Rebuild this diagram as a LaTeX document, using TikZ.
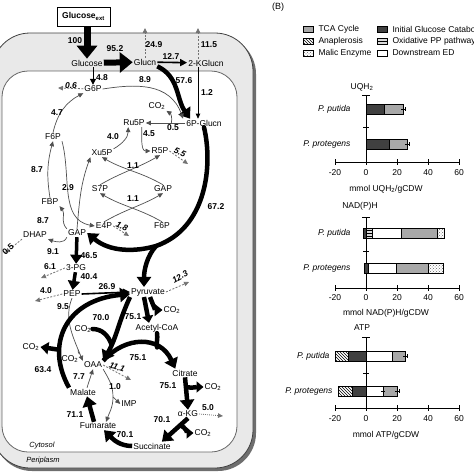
\documentclass[tikz,border=0pt]{standalone}
\usepackage{fontspec}
\setmainfont{Liberation Sans}
\usetikzlibrary{arrows.meta,patterns}

\begin{document}
\begin{tikzpicture}[x=1pt,y=-1pt,font=\fontsize{8.5}{10}\selectfont]
    \definecolor{myband}{RGB}{233,233,233}
    \definecolor{myshade}{RGB}{110,110,110}
    \definecolor{mydark}{RGB}{64,64,64}
    \definecolor{mymid}{RGB}{168,168,168}
    \definecolor{mythin}{RGB}{80,80,80}
    \definecolor{myout}{RGB}{115,115,115}

    \tikzstyle{met}=[inner sep=1pt]  % metabolite
    \tikzstyle{num}=[inner sep=0.5pt,font=\fontsize{8.5}{10}\selectfont\bfseries]  % flux value
    \tikzstyle{inum}=[inner sep=0.5pt,font=\fontsize{8.5}{10}\selectfont\bfseries\itshape]
    \tikzstyle{thinarr}=[draw=mythin,line width=0.7pt,-{Triangle[length=5pt,width=4.5pt]}]
    \tikzstyle{midarr}=[line width=1.6pt,-{Triangle[length=7pt,width=7pt]}]
    \tikzstyle{bigarr}=[line width=4.5pt,-{Triangle[length=10pt,width=14pt]}]
    \tikzstyle{hugearr}=[line width=7pt,-{Triangle[length=13pt,width=20pt]}]
    \tikzstyle{bigline}=[line width=4.5pt,line cap=round]
    \tikzstyle{efflux}=[draw=myout,line width=0.8pt,dash pattern=on 2pt off 1.5pt,-{Triangle[length=5pt,width=4.5pt]}]
    % bars of panel B
    \tikzstyle{bar}=[draw=black,line width=0.5pt]
    \tikzstyle{tca}=[bar,fill=mymid]
    \tikzstyle{ini}=[bar,fill=mydark]
    \tikzstyle{ana}=[bar,pattern=north west lines]
    \tikzstyle{oxp}=[bar,fill=black!15,postaction={pattern=horizontal lines}]
    \tikzstyle{mae}=[bar,pattern=crosshatch dots,pattern color=black!60]
    \tikzstyle{ded}=[bar,fill=white]
    \tikzstyle{chartline}=[line width=0.7pt]
    \tikzstyle{strain}=[anchor=east,font=\fontsize{8.5}{10}\selectfont\itshape]

    \useasboundingbox (0,0) rectangle (474,474);
    \clip (0,0) rectangle (474,474);

    % cell
    \fill[myshade,rounded corners=38] (-6,36) rectangle (256,471);
    \filldraw[fill=myband,draw=black!75,line width=0.8pt,rounded corners=38] (-8,33) rectangle (253,468);
    \filldraw[fill=white,draw=black!60,line width=0.8pt,rounded corners=26] (2,71) rectangle (237,452);
    \node[font=\fontsize{7.5}{9}\selectfont\itshape] (cyto) at (42,446) {Cytosol};
    \node[font=\fontsize{7.5}{9}\selectfont\itshape] (peri) at (43,461) {Periplasm};

    % metabolites
    \node[draw,thin,fill=white,minimum width=53,minimum height=19,font=\fontsize{8.5}{10}\selectfont\bfseries] (gext) at (83.5,16.5) {Glucose\textsubscript{ext}};
    \node[met] (glc) at (87,63) {Glucose};
    \node[met] (glcn) at (145,62) {Glucn};
    \node[met] (kglcn) at (206,63) {2-KGlucn};
    \node[met] (g6p) at (93,89) {G6P};
    \node[met] (f6pa) at (53,137) {F6P};
    \node[met] (ru5p) at (134,123) {Ru5P};
    \node[met] (pglcn) at (204,123) {6P-Glucn};
    \node[met] (co2a) at (157,106) {CO\textsubscript{2}};
    \node[met] (r5p) at (160,151) {R5P};
    \node[met] (xu5p) at (102,153) {Xu5P};
    \node[met] (s7p) at (100,189) {S7P};
    \node[met] (gapb) at (163,189) {GAP};
    \node[met] (e4p) at (104,226) {E4P};
    \node[met] (f6pb) at (162,226) {F6P};
    \node[met] (fbp) at (50,202) {FBP};
    \node[met] (dhap) at (35,235) {DHAP};
    \node[met] (gapa) at (77,233) {GAP};
    \node[met] (pg3) at (76,268) {3-PG};
    \node[met] (pep) at (72,294) {PEP};
    \node[met] (pyr) at (148,292) {Pyruvate};
    \node[met] (co2b) at (172,310) {CO\textsubscript{2}};
    \node[met] (acoa) at (157,328) {Acetyl-CoA};
    \node[met] (oaa) at (93,365) {OAA};
    \node[met] (co2c) at (83,329) {CO\textsubscript{2}};
    \node[met] (co2d) at (70,359) {CO\textsubscript{2}};
    \node[met] (co2e) at (31,347) {CO\textsubscript{2}};
    \node[met] (mal) at (83,392) {Malate};
    \node[met] (imp) at (129,404) {IMP};
    \node[met] (fum) at (98,426) {Fumarate};
    \node[met] (suc) at (152,446) {Succinate};
    \node[met] (cit) at (185,373) {Citrate};
    \node[met] (co2f) at (213,387) {CO\textsubscript{2}};
    \node[met] (akg) at (188,414) {α-KG};
    \node[met] (co2g) at (203,433) {CO\textsubscript{2}};

    % free ends of the effluxes
    \coordinate (e249) at (145,28);
    \coordinate (e115) at (198,28);
    \coordinate (e06) at (58,88);
    \coordinate (e55) at (188,164);
    \coordinate (e18) at (129,236);
    \coordinate (e05) at (5,253);
    \coordinate (e61) at (41,278);
    \coordinate (e40) at (35,301);
    \coordinate (e123) at (189,282);
    \coordinate (e111) at (131,380);
    \coordinate (e50) at (223,416);
    \coordinate (split) at (156,246);
    \coordinate (b10) at (113,397);

    % periplasm
    \draw[hugearr] (gext.south -| glc) -- (glc);
    \draw[hugearr,line width=6pt] (glc) -- (glcn);
    \draw[efflux] (glcn) -- (e249);
    \draw[efflux] (kglcn.north -| e115) -- (e115);
    \draw[midarr] (glcn) -- (kglcn);
    \draw[bigarr] (glcn.south east) to[out=-25,in=125] ([xshift=5pt]pglcn.north west);
    \draw[thinarr,draw=black] ([xshift=-8pt]kglcn.south) -- ([xshift=-6pt]pglcn.north);

    % upper glycolysis, PP pathway
    \draw[midarr,line width=1pt,-{Triangle[length=6pt,width=6pt]}] (glc.south -| g6p) -- (g6p);
    \draw[efflux] (g6p) -- (e06);
    \draw[thinarr] (g6p.east) .. controls (135,84) and (170,82) .. ([xshift=-2pt]pglcn.north west);
    \draw[thinarr] (f6pa.north) to[bend left=25] (g6p.south west);
    \draw[thinarr] (pglcn) -- (ru5p) coordinate[pos=0.35] (b05);
    \draw[thinarr] (b05) to[bend right=35] (co2a.south east);
    \draw[thinarr] (xu5p.north east) to[out=30,in=-90] ([xshift=6pt]ru5p.south west);
    \draw[thinarr] ([xshift=-4pt]ru5p.south east) to[out=-90,in=180] (r5p.west);
    \draw[efflux] (r5p.east) -- (e55);
    \draw[thinarr] (gapb.north) to[out=150,in=-30] (xu5p.south);
    \draw[thinarr] (s7p.north) to[out=30,in=-150] (r5p.south);
    \draw[thinarr] (f6pb.north) to[out=150,in=-30] (s7p.south);
    \draw[thinarr] (e4p.north) to[out=30,in=-150] (gapb.south);
    \draw[efflux] (e4p.east) -- (e18);
    \draw[thinarr] (gapa.north) to[out=85,in=-110] (xu5p.south west);
    \draw[thinarr] (f6pa.south east) to[out=-75,in=170] (e4p.west);
    \draw[thinarr] (fbp.north) to[bend left=12] (f6pa.south);
    \draw[thinarr] (gapa.north west) to[out=135,in=-50] (fbp.south east);
    \draw[thinarr] (gapa.south west) to[out=-110,in=-20] (dhap.south east);
    \draw[efflux] (dhap.south west) -- (e05);

    % lower glycolysis
    \draw[bigarr,line width=3.5pt,-{Triangle[length=9pt,width=12pt]}] (gapa) -- (pg3);
    \draw[efflux] (pg3.west) -- (e61);
    \draw[bigarr,line width=3.5pt,-{Triangle[length=9pt,width=12pt]}] (pg3) -- (pep);
    \draw[efflux] (pep.west) -- (e40);
    \draw[midarr] (pep.east) -- (pyr.west);
    \draw[efflux] (pyr.east) -- (e123);
    \draw[bigline] (pglcn.south) .. controls (213,165) and (207,228) .. (split);
    \draw[bigarr] (split) .. controls (135,252) and (110,252) .. (gapa.east);
    \draw[bigarr] (split) .. controls (147,256) and (144,270) .. ([xshift=-4pt]pyr.north);

    % TCA cycle and anaplerosis
    \draw[bigarr,-{Triangle[length=8pt,width=12pt]}] ([xshift=2pt]pyr.south) to[out=-70,in=180] (co2b.west);
    \draw[bigarr,-{Triangle[length=7pt,width=11pt]}] ([xshift=-4pt]pyr.south) -- ([xshift=-8pt]acoa.north);
    \draw[bigarr] (pyr.south west) to[out=-115,in=60] coordinate[pos=0.75] (j700) (oaa.north east);
    \draw[bigline] (co2c.east) to[out=0,in=110] (j700);
    \draw[thinarr] (pep.south) .. controls (64,318) and (72,335) .. (oaa.north west) coordinate[pos=0.85] (j95);
    \draw[draw=mythin,line width=0.7pt] (co2d.north east) to[bend left=30] (j95);
    \draw[bigarr] (mal.north west) .. controls (45,345) and (65,300) .. ([yshift=-2pt]pyr.west) coordinate[pos=0.3] (j634);
    \draw[bigarr,-{Triangle[length=8pt,width=12pt]}] (j634) -- (co2e.east);
    \draw[thinarr] ([xshift=4pt]mal.north) -- (oaa.south);
    \draw[efflux] (oaa.east) -- (e111);
    \draw[draw=mythin,line width=0.7pt] (oaa.south east) to[out=-60,in=90] (b10);
    \draw[thinarr] (b10) -- (imp.west);
    \draw[thinarr] (b10) to[out=-90,in=70] ([xshift=8pt]fum.north);
    \draw[bigarr] (oaa.north east) .. controls (125,336) and (160,335) .. ([xshift=4pt]cit.north west) coordinate[pos=0.7] (jcit);
    \draw[bigline] (acoa.south) to[out=-80,in=100] (jcit);
    \draw[bigarr] (cit.south) -- (akg.north) coordinate[pos=0.3] (jakg);
    \draw[bigarr,-{Triangle[length=7pt,width=11pt]}] (jakg) to[out=-10,in=180] (co2f.west);
    \draw[bigarr] (akg.south) -- ([xshift=-10pt]suc.north east) coordinate[pos=0.3] (jsuc);
    \draw[bigarr,-{Triangle[length=7pt,width=11pt]}] (jsuc) to[out=-20,in=180] (co2g.west);
    \draw[efflux,dash pattern=on 0.8pt off 1.2pt] (akg.east) -- (e50);
    \draw[bigarr] (suc.west) to[out=180,in=-45] ([xshift=6pt]fum.south);
    \draw[bigarr] ([xshift=-4pt]fum.north) -- ([xshift=4pt]mal.south);

    % flux values
    \node[num] (l100) at (75,41) {100};
    \node[num] (l952) at (115,49) {95.2};
    \node[num] (l249) at (154,45) {24.9};
    \node[num] (l115) at (209,45) {11.5};
    \node[num] (l127) at (171,57) {12.7};
    \node[num] (l576) at (184,81) {57.6};
    \node[num] (l12) at (207,93) {1.2};
    \node[num] (l48) at (102,78) {4.8};
    \node[inum] (l06) at (71,86) {0.6};
    \node[num] (l89) at (145,80) {8.9};
    \node[num] (l47) at (57,113) {4.7};
    \node[num] (l05a) at (173,128) {0.5};
    \node[num] (l40a) at (113,137) {4.0};
    \node[num] (l45) at (149,134) {4.5};
    \node[inum,rotate=-25] (l55) at (180,152) {5.5};
    \node[num] (l11a) at (133,166) {1.1};
    \node[num] (l11b) at (133,199) {1.1};
    \node[inum,rotate=-25] (l18) at (122,226) {1.8};
    \node[num] (l29) at (68,188) {2.9};
    \node[num] (l87a) at (37,170) {8.7};
    \node[num] (l87b) at (43,221) {8.7};
    \node[num] (l91) at (53,252) {9.1};
    \node[num,rotate=40] (l05b) at (8,249) {0.5};
    \node[num] (l465) at (89,256) {46.5};
    \node[num] (l61) at (50,267) {6.1};
    \node[num] (l404) at (89,277) {40.4};
    \node[num] (l40b) at (46,291) {4.0};
    \node[num] (l269) at (107,287) {26.9};
    \node[inum,rotate=30] (l123) at (180,277) {12.3};
    \node[num] (l672) at (216,207) {67.2};
    \node[num] (l95) at (63,307) {9.5};
    \node[num] (l700) at (101,318) {70.0};
    \node[num] (l751a) at (133,317) {75.1};
    \node[num] (l634) at (43,370) {63.4};
    \node[num] (l77) at (79,377) {7.7};
    \node[inum,rotate=-20] (l111) at (117,367) {11.1};
    \node[num] (l10) at (115,387) {1.0};
    \node[num] (l711) at (75,415) {71.1};
    \node[num] (l701a) at (125,435) {70.1};
    \node[num] (l751b) at (138,358) {75.1};
    \node[num] (l751c) at (168,386) {75.1};
    \node[num] (l701b) at (162,420) {70.1};
    \node[num] (l50) at (208,408) {5.0};

    % panel B
    \node[font=\fontsize{9}{10}\selectfont] (pb) at (278,7) {(B)};
    % legend
    \draw[tca] (303,26) rectangle (313,32);
    \node[anchor=west] (lg1) at (315,29) {TCA Cycle};
    \draw[ana] (303,38) rectangle (313,44);
    \node[anchor=west] (lg2) at (315,41) {Anaplerosis};
    \draw[mae] (303,50) rectangle (313,56);
    \node[anchor=west] (lg3) at (315,53) {Malic Enzyme};
    \draw[ini] (377,26) rectangle (387,32);
    \node[anchor=west] (lg4) at (389,29) {Initial Glucose Catabolism};
    \draw[oxp] (377,38) rectangle (387,44);
    \node[anchor=west] (lg5) at (389,41) {Oxidative PP pathway};
    \draw[ded] (377,50) rectangle (387,56);
    \node[anchor=west] (lg6) at (389,53) {Downstream ED};

    % UQH2
    \node (tuqh) at (362,87) {UQH\textsubscript{2}};
    \draw[chartline] (362,95) -- (370,95) (366,95) -- (366,162) (363,127) -- (369,127);
    \draw[chartline] (335,162) -- (459,162);
    \foreach \x/\v in {335/-20,366/0,397/20,428/40,459/60} {
        \draw[chartline] (\x,159) -- (\x,165);
        \node at (\x,173) {\v};
    }
    \node (xuqh) at (386,189) {mmol UQH\textsubscript{2}/gCDW};
    \node[strain] (u1) at (354,109) {P. putida};
    \node[strain] (u2) at (354,144) {P. protegens};
    \draw[ini] (366,104) rectangle (384,114);
    \draw[tca] (384,104) rectangle (403,114);
    \draw[chartline] (401,109) -- (405,109) (405,107) -- (405,111);
    \draw[ini] (366,139) rectangle (389,149);
    \draw[tca] (389,139) rectangle (407,149);
    \draw[chartline] (405,144) -- (409,144) (409,142) -- (409,146);

    % NAD(P)H
    \node (tnad) at (360,206) {NAD(P)H};
    \draw[chartline] (362,217) -- (370,217) (366,217) -- (366,288) (363,251) -- (369,251);
    \draw[chartline] (335,288) -- (459,288);
    \foreach \x/\v in {335/-20,366/0,397/20,428/40,459/60} {
        \draw[chartline] (\x,285) -- (\x,291);
        \node at (\x,298) {\v};
    }
    \node (xnad) at (386,313) {mmol NAD(P)H/gCDW};
    \node[strain] (n1) at (354,233) {P. putida};
    \node[strain] (n2) at (354,268) {P. protegens};
    \draw[ini] (363,228) rectangle (366,238);
    \draw[oxp] (366,228) rectangle (372,238);
    \draw[ded] (372,228) rectangle (401,238);
    \draw[tca] (401,228) rectangle (437,238);
    \draw[mae] (437,228) rectangle (444,238);
    \draw[ini] (364,263) rectangle (368,273);
    \draw[ded] (368,263) rectangle (396,273);
    \draw[tca] (396,263) rectangle (428,273);
    \draw[mae] (428,263) rectangle (443,273);
    \draw[chartline] (396,266) -- (396,270) (428,266) -- (428,270);

    % ATP
    \node (tatp) at (362,328) {ATP};
    \draw[chartline] (362,337) -- (370,337) (366,337) -- (366,408) (363,373) -- (369,373);
    \draw[chartline] (335,408) -- (459,408);
    \foreach \x/\v in {335/-20,366/0,397/20,428/40,459/60} {
        \draw[chartline] (\x,405) -- (\x,411);
        \node at (\x,419) {\v};
    }
    \node (xatp) at (386,435) {mmol ATP/gCDW};
    \node[strain] (a1) at (333,356) {P. putida};
    \node[strain] (a2) at (336,391) {P. protegens};
    \draw[ana] (335,351) rectangle (348,361);
    \draw[ini] (348,351) rectangle (366,361);
    \draw[ded] (366,351) rectangle (392,361);
    \draw[tca] (392,351) rectangle (405,361);
    \draw[chartline] (403,356) -- (407,356) (407,354) -- (407,358);
    \draw[ana] (338,386) rectangle (352,396);
    \draw[ini] (352,386) rectangle (366,396);
    \draw[ded] (366,386) rectangle (383,396);
    \draw[tca] (383,386) rectangle (397,396);
    \draw[chartline] (381,391) -- (385,391) (395,391) -- (399,391) (399,389) -- (399,393);
\end{tikzpicture}
\end{document}
